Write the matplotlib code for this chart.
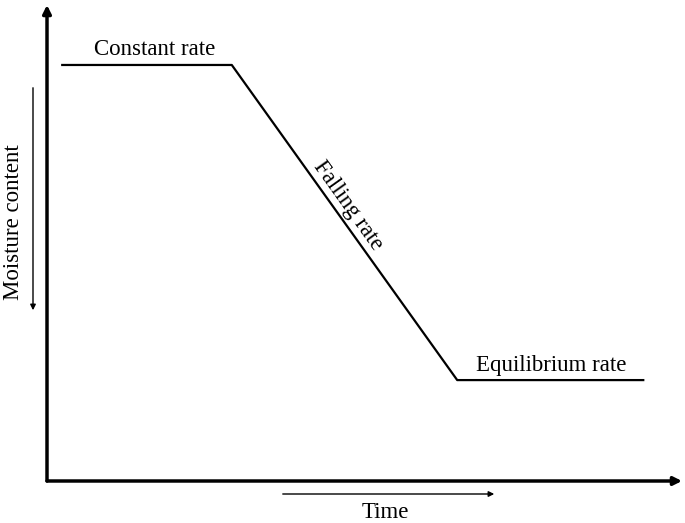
import matplotlib.pyplot as plt
from matplotlib.patches import FancyArrowPatch

# drying curve, in percent of axis length
time = [2.4, 29.1, 64.6, 93.9]
moisture = [87.4, 87.4, 21.2, 21.2]
phase_labels = ["Constant rate", "Falling rate", "Equilibrium rate"]

W, H = 685, 523
fig = plt.figure(figsize=(W / 100, H / 100), dpi=100)
ax = fig.add_axes([47 / W, (H - 481) / H, (682 - 47) / W, (481 - 5) / H])
ax.set_xlim(0, 100)
ax.set_ylim(0, 100)
ax.axis("off")
ax.plot(time, moisture, color="black", lw=1.6)

serif = "Liberation Serif"
fs = 16.5

# main axes with arrow heads
for tip in [(0, 100), (100, 0)]:
    ax.annotate("", xy=tip, xytext=(0, 0), xycoords="data", annotation_clip=False,
                arrowprops=dict(arrowstyle="-|>", color="black", lw=2.5,
                                mutation_scale=12, shrinkA=0, shrinkB=0))

# side arrows
fig.patches.append(FancyArrowPatch(
    (33 / W, 1 - 85 / H), (33 / W, 1 - 313 / H), transform=fig.transFigure,
    arrowstyle="-|>", mutation_scale=8, color="black", lw=1))
fig.patches.append(FancyArrowPatch(
    (280 / W, 1 - 494 / H), (497 / W, 1 - 494 / H), transform=fig.transFigure,
    arrowstyle="-|>", mutation_scale=8, color="black", lw=1))

fig.text(14 / W, 1 - 222 / H, "Moisture content", rotation=90, ha="center", va="center", family=serif, fontsize=fs)
fig.text(385 / W, 1 - 512 / H, "Time", ha="center", va="center", family=serif, fontsize=fs)
fig.text(155 / W, 1 - 49 / H, phase_labels[0], ha="center", va="center", family=serif, fontsize=fs)
fig.text(348 / W, 1 - 205 / H, phase_labels[1], rotation=-54.5, ha="center", va="center",
         rotation_mode="anchor", family=serif, fontsize=fs)
fig.text(551 / W, 1 - 365 / H, phase_labels[2], ha="center", va="center", family=serif, fontsize=fs)

fig.savefig("out.png", dpi=100)
